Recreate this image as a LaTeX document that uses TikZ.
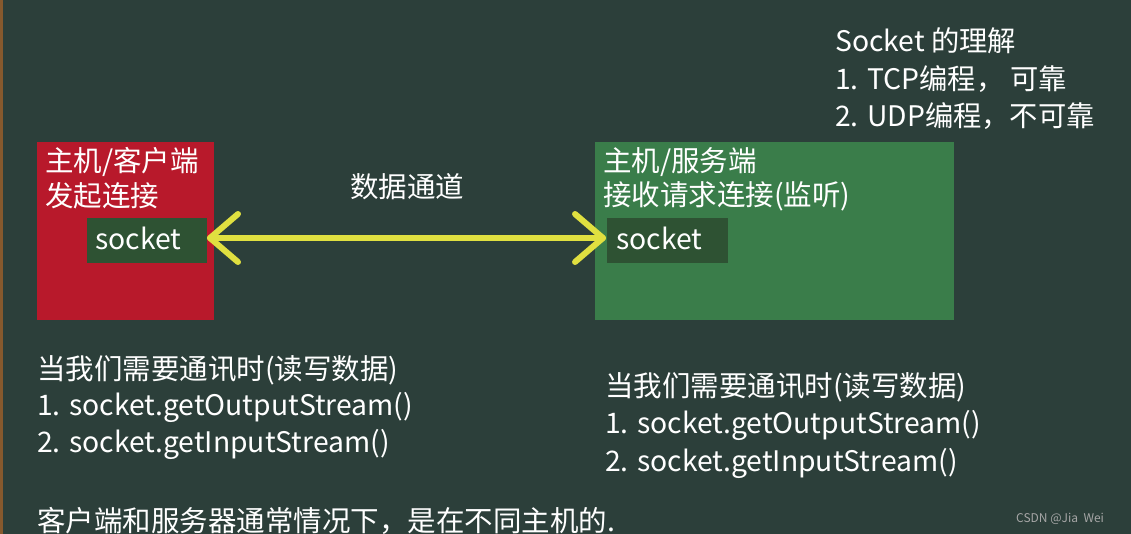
\documentclass[tikz,border=0pt]{standalone}
\usepackage{fontspec}
\setmainfont{Noto Sans CJK SC}
\begin{document}
\begin{tikzpicture}[x=1pt,y=-1pt,
  txt/.style={text=white,font=\fontsize{28.5}{30}\selectfont,inner sep=0pt,anchor=west},
  lat/.style={txt,font=\fontsize{28.3}{30}\selectfont},
  sock/.style={fill=sockgreen,inner sep=0pt,anchor=north west}]
\definecolor{board}{HTML}{2C3F3A}
\definecolor{cred}{HTML}{B8192B}
\definecolor{cgreen}{HTML}{3A7D4A}
\definecolor{sockgreen}{HTML}{2E5233}
\definecolor{chalk}{HTML}{E0E040}
\useasboundingbox (0,0) rectangle (1131,534);
\fill[board] (0,0) rectangle (1131,534);
\fill[brown!70!black] (0,0) rectangle (3,534);
\fill[cred] (37,142) rectangle (214,320);
\fill[cgreen] (595,142) rectangle (954,320);
\node[sock,minimum width=120pt,minimum height=45pt] (ls) at (87,218) {};
\node[lat] at (95,238) {socket};
\node[sock,minimum width=121pt,minimum height=45pt] (rs) at (607,218) {};
\node[lat] at (616,238) {socket};
\coordinate (a1) at (210,238);
\coordinate (a2) at (603,238);
\draw[chalk,line width=6pt,line cap=round,line join=round] (a1) -- (a2);
\draw[chalk,line width=6pt,line cap=round,line join=round] (238,214) -- (a1) -- (238,262);
\draw[chalk,line width=6pt,line cap=round,line join=round] (575,214) -- (a2) -- (575,262);
\node[txt] at (45,162) {主机/客户端};
\node[txt] at (45,196) {发起连接};
\node[txt] (ch) at (350,187) {数据通道};
\node[txt] at (603,162) {主机/服务端};
\node[txt] at (603,196) {接收请求连接(监听)};
\node[lat] at (835,41) {Socket 的理解};
\node[lat] at (835,79) {1. TCP编程， 可靠};
\node[lat] at (835,116) {2. UDP编程，不可靠};
\node[txt] at (37,370) {当我们需要通讯时(读写数据)};
\node[lat] at (37,407) {1. socket.getOutputStream()};
\node[lat] at (37,444) {2. socket.getInputStream()};
\node[txt] at (605,387) {当我们需要通讯时(读写数据)};
\node[lat] at (605,425) {1. socket.getOutputStream()};
\node[lat] at (605,463) {2. socket.getInputStream()};
\node[txt] at (37,521) {客户端和服务器通常情况下，是在不同主机的.};
\node[txt,text=gray!70,font=\fontsize{12}{13}\selectfont] at (1016,519) {CSDN @Jia\ \ Wei};
\end{tikzpicture}
\end{document}
